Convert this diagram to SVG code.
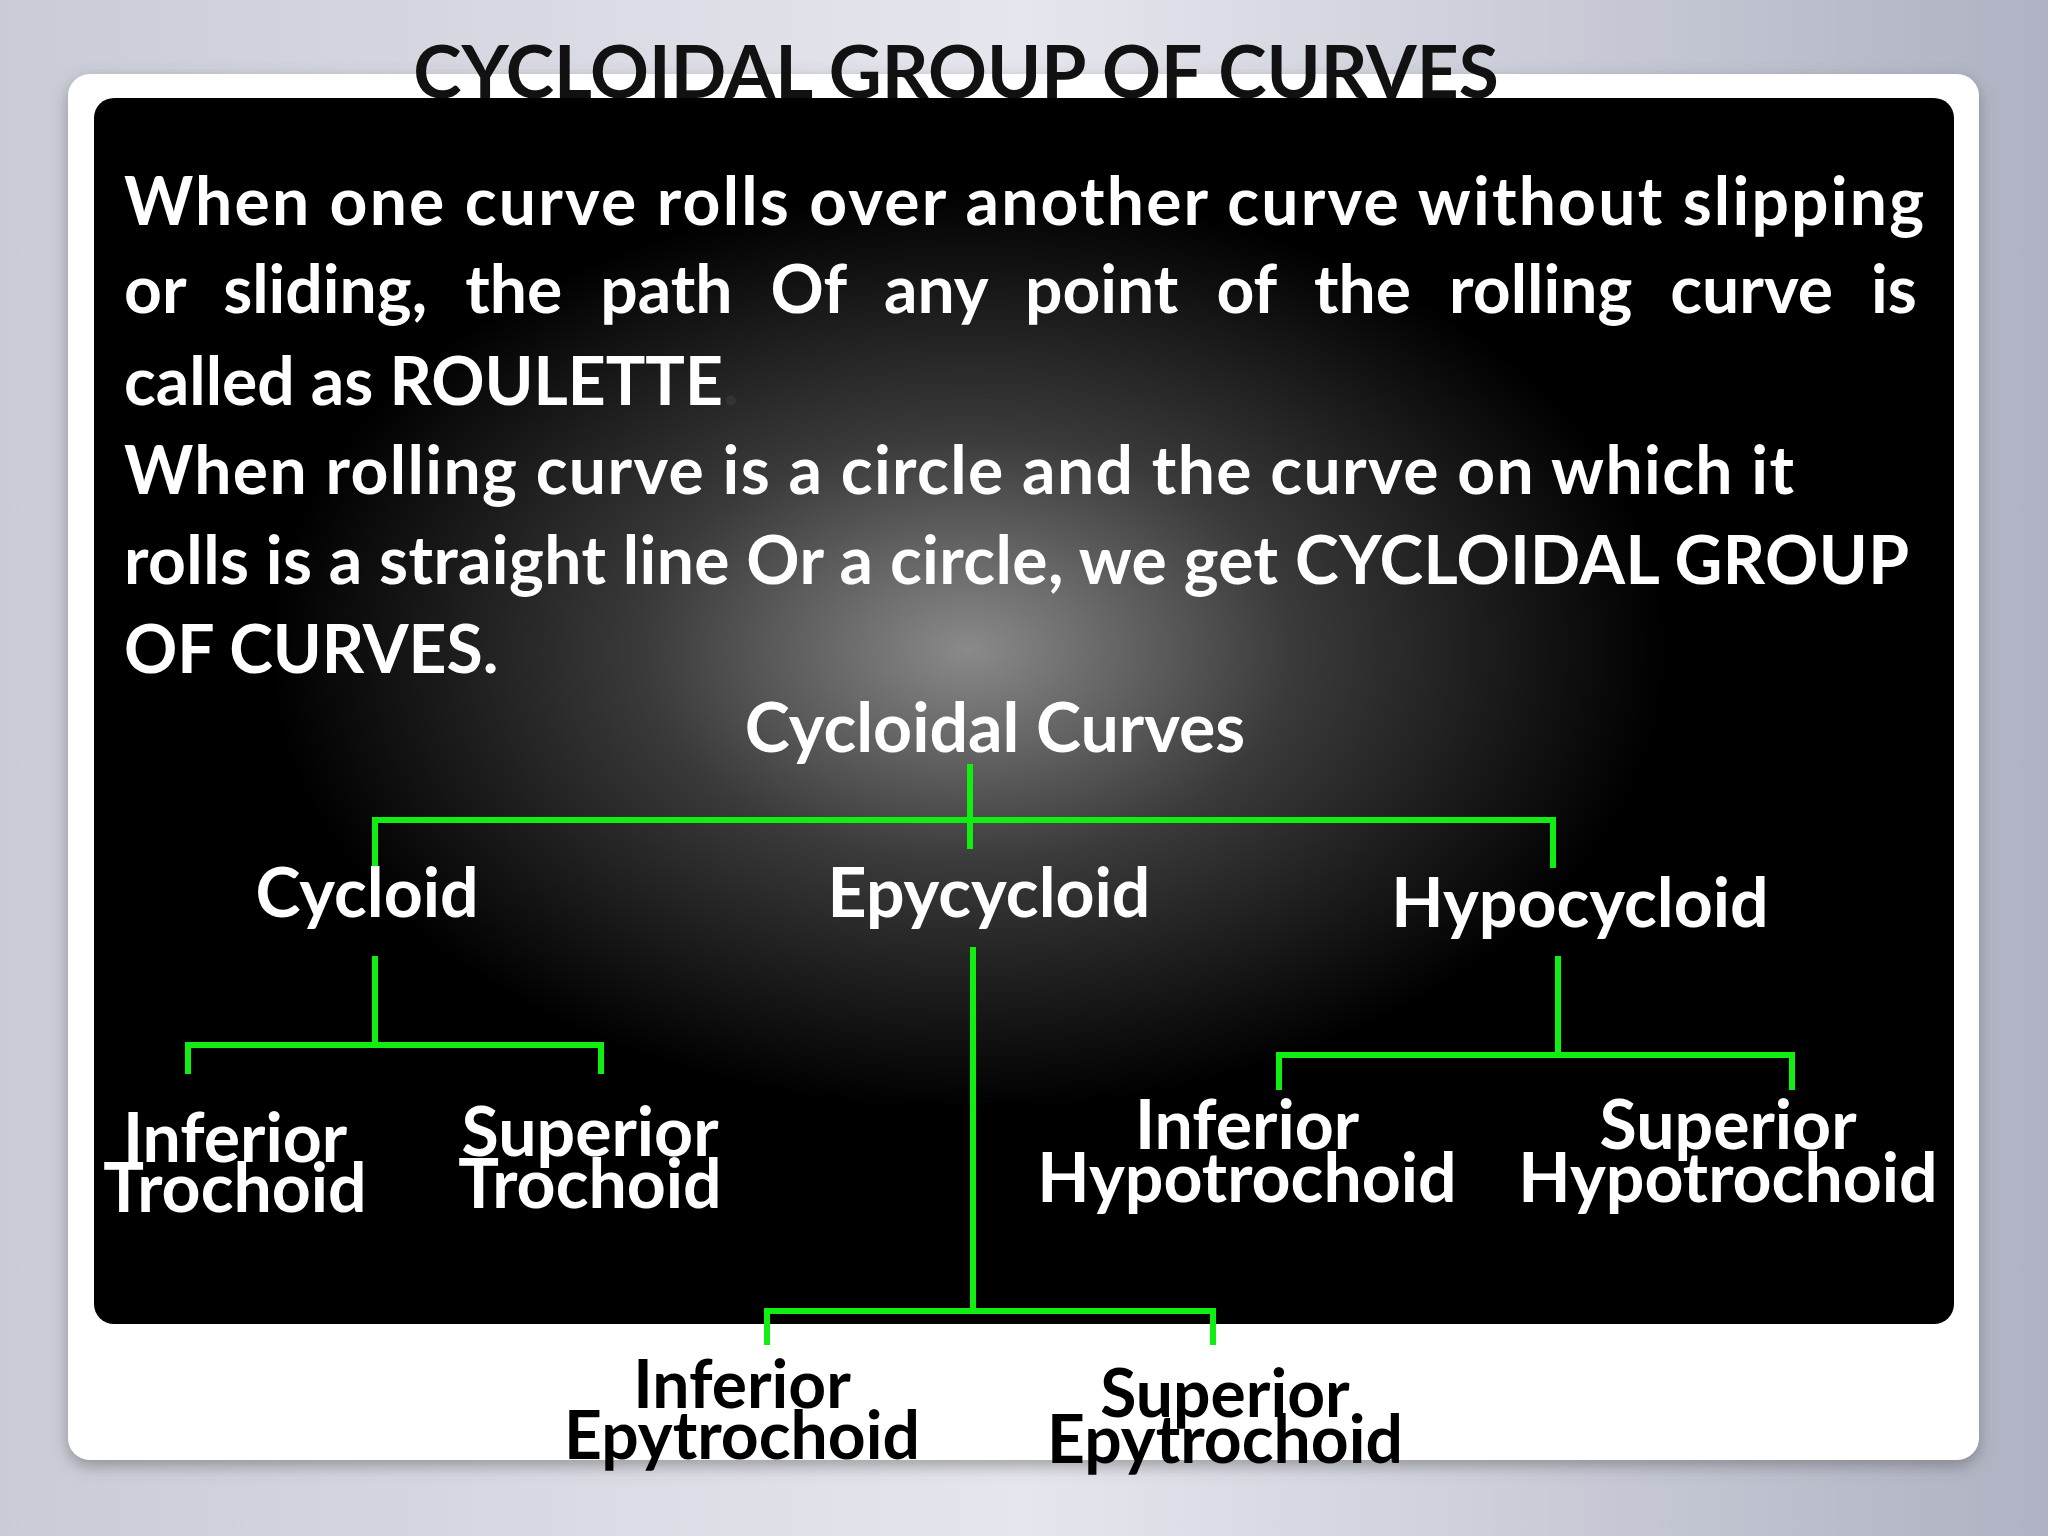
<svg xmlns="http://www.w3.org/2000/svg" width="2048" height="1536" viewBox="0 0 2048 1536">
<defs>
<linearGradient id="bg" x1="0" y1="0" x2="1" y2="0">
<stop offset="0" stop-color="#c9cbd6"/><stop offset="0.5" stop-color="#e6e7ee"/><stop offset="1" stop-color="#aeb2c2"/>
</linearGradient>
<radialGradient id="blk" cx="0.47" cy="0.45" r="0.5">
<stop offset="0" stop-color="#8a8a8a"/><stop offset="0.35" stop-color="#3a3a3a"/><stop offset="0.75" stop-color="#000"/>
</radialGradient>
<filter id="sh" x="-5%" y="-5%" width="110%" height="110%"><feDropShadow dx="0" dy="6" stdDeviation="8" flood-color="#555" flood-opacity="0.5"/></filter>
<style>
.w{fill:#fff;font-family:Lato,"Open Sans",sans-serif;font-weight:bold;font-size:66px}
.n{fill:#fff;font-family:Lato,"Open Sans",sans-serif;font-weight:bold;font-size:68px;text-anchor:middle}
.b{fill:#000;font-family:Lato,"Open Sans",sans-serif;font-weight:bold;font-size:66px;text-anchor:middle}
.g{stroke:#11ee11;stroke-width:6;fill:none}
</style>
</defs>
<rect width="2048" height="1536" fill="url(#bg)"/>
<rect x="68" y="74" width="1911" height="1386" rx="22" fill="#fff" filter="url(#sh)"/>
<text x="956" y="98" fill="#111" font-family="Lato,'Open Sans',sans-serif" font-weight="bold" font-size="73" text-anchor="middle">CYCLOIDAL GROUP OF CURVES</text>
<rect x="94" y="98" width="1860" height="1226" rx="20" fill="url(#blk)"/>
<g id="paragraph">
<text class="w" x="124" y="225" textLength="1800" lengthAdjust="spacing">When one curve rolls over another curve without slipping</text>
<text class="w" x="124" y="313" word-spacing="22">or sliding, the path Of any point of the rolling curve is</text>
<text class="w" x="124" y="405">called as ROULETTE<tspan fill="#333">.</tspan></text>
<text class="w" x="124" y="494" textLength="1670" lengthAdjust="spacing">When rolling curve is a circle and the curve on which it</text>
<text class="w" x="124" y="584" textLength="1785" lengthAdjust="spacing">rolls is a straight line Or a circle, we get CYCLOIDAL GROUP</text>
<text class="w" x="124" y="673">OF CURVES.</text>
</g>
<g id="connectors">
<path class="g" d="M970 764V849M375 868V820H1553V868"/>
<path class="g" d="M375 956V1045M188 1074V1045H601V1074"/>
<path class="g" d="M973 947V1311M767 1345V1311H1213V1345"/>
<path class="g" d="M1558 956V1055M1279 1090V1055H1792V1090"/>
</g>
<g id="root"><text class="n" x="995" y="752" font-size="70">Cycloidal Curves</text></g>
<g id="cycloid"><text class="n" x="367" y="917">Cycloid</text></g>
<g id="epycycloid"><text class="n" x="989" y="917">Epycycloid</text></g>
<g id="hypocycloid"><text class="n" x="1580" y="927">Hypocycloid</text></g>
<g id="inf-trochoid"><text class="n" x="235" y="1162" font-size="64">Inferior</text><text class="n" x="235" y="1212">Trochoid</text></g>
<g id="sup-trochoid"><text class="n" x="590" y="1156">Superior</text><text class="n" x="590" y="1208">Trochoid</text></g>
<g id="inf-hypo"><text class="n" x="1247" y="1149">Inferior</text><text class="n" x="1247" y="1202">Hypotrochoid</text></g>
<g id="sup-hypo"><text class="n" x="1728" y="1149">Superior</text><text class="n" x="1728" y="1202">Hypotrochoid</text></g>
<g id="inf-epy"><text class="b" x="742" y="1408">Inferior</text><text class="b" x="742" y="1459">Epytrochoid</text></g>
<g id="sup-epy"><text class="b" x="1225" y="1417">Superior</text><text class="b" x="1225" y="1463">Epytrochoid</text></g>
</svg>
